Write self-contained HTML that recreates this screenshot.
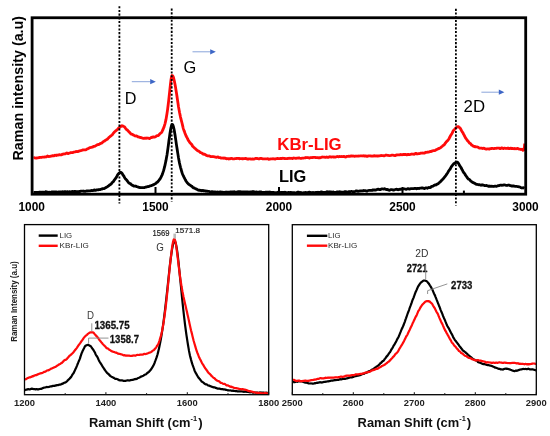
<!DOCTYPE html>
<html><head><meta charset="utf-8"><style>
html,body{margin:0;padding:0;background:#fff;}
svg{display:block;filter:blur(0.3px);font-family:"Liberation Sans", sans-serif;}
</style></head><body>
<svg width="550" height="436" viewBox="0 0 550 436" font-family='"Liberation Sans", sans-serif'>
<path d="M33.5,158.1 L34.0,158.0 L34.5,157.7 L35.0,157.9 L35.5,158.0 L36.0,158.2 L36.5,158.1 L37.0,157.9 L37.5,157.9 L38.0,157.8 L38.5,157.7 L39.0,157.7 L39.5,157.4 L40.0,157.5 L40.5,157.4 L41.0,157.5 L41.5,157.3 L42.0,157.3 L42.5,157.1 L43.0,157.2 L43.5,157.1 L44.0,157.2 L44.5,157.1 L45.0,156.9 L45.5,156.9 L46.0,157.0 L46.5,156.8 L47.0,156.5 L47.5,156.0 L48.0,156.2 L48.5,156.4 L49.0,156.6 L49.5,156.5 L50.0,156.4 L50.5,156.3 L51.0,156.1 L51.5,156.1 L52.0,155.9 L52.5,155.7 L53.0,155.6 L53.5,155.9 L54.0,155.8 L54.5,155.5 L55.0,155.2 L55.5,155.3 L56.0,155.3 L56.5,155.5 L57.0,155.0 L57.5,155.1 L58.0,155.0 L58.5,155.0 L59.0,154.8 L59.5,154.7 L60.0,154.8 L60.5,154.8 L61.0,154.9 L61.5,154.8 L62.0,154.6 L62.5,154.1 L63.0,154.1 L63.5,154.0 L64.0,154.0 L64.5,153.8 L65.0,153.9 L65.5,153.7 L66.0,153.4 L66.5,153.0 L67.0,153.1 L67.5,153.2 L68.0,153.6 L68.5,153.4 L69.0,153.2 L69.5,153.0 L70.0,152.9 L70.5,152.7 L71.0,152.5 L71.5,152.6 L72.0,152.7 L72.5,152.7 L73.0,152.4 L73.5,152.2 L74.0,152.1 L74.5,152.0 L75.0,151.9 L75.5,151.7 L76.0,151.5 L76.5,151.5 L77.0,151.6 L77.5,151.5 L78.0,151.5 L78.5,151.2 L79.0,151.2 L79.5,150.9 L80.0,150.8 L80.5,150.7 L81.0,150.6 L81.5,150.5 L82.0,150.3 L82.5,150.1 L83.0,149.9 L83.5,149.8 L84.0,149.8 L84.5,149.9 L85.0,149.8 L85.5,149.9 L86.0,149.7 L86.5,149.4 L87.0,149.1 L87.5,148.8 L88.0,148.8 L88.5,148.3 L89.0,148.2 L89.5,147.7 L90.0,147.7 L90.5,147.5 L91.0,147.4 L91.5,147.3 L92.0,147.2 L92.5,147.2 L93.0,146.7 L93.5,146.4 L94.0,146.3 L94.5,146.3 L95.0,146.2 L95.5,145.9 L96.0,145.6 L96.5,145.2 L97.0,144.9 L97.5,144.7 L98.0,144.5 L98.5,144.5 L99.0,144.5 L99.5,144.1 L100.0,143.8 L100.5,143.4 L101.0,143.4 L101.5,143.1 L102.0,142.9 L102.5,142.3 L103.0,141.9 L103.5,141.5 L104.0,141.3 L104.5,141.1 L105.0,140.5 L105.5,140.3 L106.0,139.8 L106.5,139.8 L107.0,139.3 L107.5,139.1 L108.0,138.4 L108.5,138.0 L109.0,137.4 L109.5,137.0 L110.0,136.6 L110.5,136.2 L111.0,135.8 L111.5,135.4 L112.0,135.0 L112.5,134.5 L113.0,133.7 L113.5,133.0 L114.0,132.5 L114.5,131.9 L115.0,131.5 L115.5,131.0 L116.0,130.7 L116.5,130.2 L117.0,129.8 L117.5,129.4 L118.0,128.7 L118.5,128.2 L119.0,127.8 L119.5,127.4 L120.0,127.1 L120.5,126.8 L121.0,126.3 L121.5,126.0 L122.0,125.6 L122.5,125.9 L123.0,126.1 L123.5,126.4 L124.0,126.5 L124.5,126.9 L125.0,127.5 L125.5,128.3 L126.0,128.9 L126.5,129.4 L127.0,129.9 L127.5,130.1 L128.0,130.7 L128.5,131.2 L129.0,132.0 L129.5,132.3 L130.0,132.7 L130.5,133.4 L131.0,133.9 L131.5,134.1 L132.0,134.3 L132.5,134.4 L133.0,134.8 L133.5,134.8 L134.0,135.4 L134.5,135.5 L135.0,135.9 L135.5,136.0 L136.0,136.1 L136.5,135.9 L137.0,136.0 L137.5,136.5 L138.0,136.9 L138.5,137.0 L139.0,137.0 L139.5,137.2 L140.0,137.4 L140.5,137.6 L141.0,137.5 L141.5,137.7 L142.0,138.0 L142.5,138.1 L143.0,138.3 L143.5,138.4 L144.0,138.5 L144.5,138.1 L145.0,138.1 L145.5,138.2 L146.0,138.4 L146.5,138.0 L147.0,138.1 L147.5,138.0 L148.0,138.1 L148.5,138.3 L149.0,138.5 L149.5,138.6 L150.0,138.2 L150.5,137.9 L151.0,137.5 L151.5,137.5 L152.0,137.2 L152.5,137.3 L153.0,136.9 L153.5,137.0 L154.0,137.0 L154.5,137.1 L155.0,137.0 L155.5,136.7 L156.0,136.4 L156.5,135.9 L157.0,135.7 L157.5,135.7 L158.0,135.6 L158.5,135.4 L159.0,134.8 L159.5,134.3 L160.0,133.7 L160.5,133.2 L161.0,132.9 L161.5,132.4 L162.0,131.7 L162.5,130.5 L163.0,129.5 L163.5,128.2 L164.0,127.1 L164.5,125.4 L165.0,123.8 L165.5,121.6 L166.0,119.4 L166.5,116.6 L167.0,113.5 L167.5,110.1 L168.0,106.3 L168.5,102.2 L169.0,97.7 L169.5,93.1 L170.0,88.4 L170.5,83.8 L171.0,79.7 L171.5,76.7 L172.0,75.5 L172.5,75.6 L173.0,76.3 L173.5,77.6 L174.0,79.5 L174.5,81.7 L175.0,84.2 L175.5,87.0 L176.0,90.2 L176.5,93.3 L177.0,96.5 L177.5,100.0 L178.0,103.2 L178.5,106.7 L179.0,109.5 L179.5,112.3 L180.0,114.6 L180.5,117.1 L181.0,119.2 L181.5,121.1 L182.0,123.0 L182.5,125.1 L183.0,127.3 L183.5,129.1 L184.0,130.6 L184.5,131.7 L185.0,133.2 L185.5,134.5 L186.0,135.8 L186.5,136.7 L187.0,137.5 L187.5,138.7 L188.0,139.7 L188.5,140.6 L189.0,141.3 L189.5,142.1 L190.0,142.8 L190.5,143.3 L191.0,143.8 L191.5,144.2 L192.0,145.0 L192.5,146.0 L193.0,146.6 L193.5,147.1 L194.0,147.4 L194.5,147.9 L195.0,148.4 L195.5,148.7 L196.0,149.4 L196.5,149.7 L197.0,150.2 L197.5,150.5 L198.0,150.9 L198.5,151.0 L199.0,151.2 L199.5,151.7 L200.0,152.2 L200.5,152.6 L201.0,152.6 L201.5,152.9 L202.0,153.2 L202.5,153.6 L203.0,154.1 L203.5,154.2 L204.0,154.3 L204.5,154.1 L205.0,154.4 L205.5,154.7 L206.0,155.2 L206.5,155.3 L207.0,155.7 L207.5,155.8 L208.0,155.9 L208.5,155.9 L209.0,156.0 L209.5,156.0 L210.0,156.2 L210.5,156.4 L211.0,156.7 L211.5,156.6 L212.0,156.6 L212.5,156.5 L213.0,156.6 L213.5,156.6 L214.0,156.8 L214.5,156.8 L215.0,157.0 L215.5,157.2 L216.0,157.2 L216.5,157.4 L217.0,157.1 L217.5,157.0 L218.0,157.0 L218.5,157.3 L219.0,157.7 L219.5,157.6 L220.0,157.6 L220.5,157.7 L221.0,158.1 L221.5,158.1 L222.0,158.2 L222.5,158.0 L223.0,158.1 L223.5,158.0 L224.0,158.3 L224.5,158.2 L225.0,158.2 L225.5,158.2 L226.0,158.6 L226.5,158.8 L227.0,158.8 L227.5,158.6 L228.0,158.7 L228.5,158.7 L229.0,159.0 L229.5,158.9 L230.0,158.8 L230.5,158.5 L231.0,158.4 L231.5,158.3 L232.0,158.6 L232.5,158.8 L233.0,158.8 L233.5,158.8 L234.0,158.8 L234.5,158.8 L235.0,158.6 L235.5,158.6 L236.0,158.6 L236.5,158.4 L237.0,158.4 L237.5,158.5 L238.0,158.4 L238.5,158.5 L239.0,158.5 L239.5,158.8 L240.0,158.7 L240.5,158.6 L241.0,158.6 L241.5,158.6 L242.0,158.8 L242.5,158.7 L243.0,158.8 L243.5,158.7 L244.0,158.7 L244.5,158.7 L245.0,158.5 L245.5,158.5 L246.0,158.5 L246.5,158.8 L247.0,158.8 L247.5,159.1 L248.0,159.0 L248.5,159.1 L249.0,158.8 L249.5,158.8 L250.0,158.9 L250.5,158.9 L251.0,159.1 L251.5,159.1 L252.0,159.0 L252.5,159.0 L253.0,158.8 L253.5,159.2 L254.0,159.1 L254.5,159.0 L255.0,158.5 L255.5,158.4 L256.0,158.4 L256.5,158.5 L257.0,158.5 L257.5,158.5 L258.0,158.6 L258.5,158.9 L259.0,158.8 L259.5,158.8 L260.0,158.5 L260.5,158.5 L261.0,158.4 L261.5,158.4 L262.0,158.7 L262.5,158.8 L263.0,158.9 L263.5,158.9 L264.0,158.9 L264.5,158.9 L265.0,158.9 L265.5,158.8 L266.0,158.9 L266.5,158.9 L267.0,158.9 L267.5,158.7 L268.0,158.8 L268.5,158.9 L269.0,159.4 L269.5,159.1 L270.0,159.2 L270.5,158.8 L271.0,158.9 L271.5,158.9 L272.0,158.8 L272.5,158.8 L273.0,158.7 L273.5,158.8 L274.0,158.9 L274.5,159.0 L275.0,159.0 L275.5,159.0 L276.0,158.8 L276.5,158.6 L277.0,158.5 L277.5,158.4 L278.0,158.6 L278.5,158.7 L279.0,158.6 L279.5,158.6 L280.0,158.5 L280.5,158.6 L281.0,158.4 L281.5,158.6 L282.0,158.4 L282.5,158.3 L283.0,158.2 L283.5,158.4 L284.0,158.5 L284.5,158.4 L285.0,158.6 L285.5,158.6 L286.0,158.7 L286.5,158.7 L287.0,158.6 L287.5,158.6 L288.0,158.4 L288.5,158.4 L289.0,158.2 L289.5,158.3 L290.0,158.4 L290.5,158.4 L291.0,158.2 L291.5,158.4 L292.0,158.5 L292.5,158.6 L293.0,158.3 L293.5,158.0 L294.0,158.1 L294.5,158.2 L295.0,158.2 L295.5,158.3 L296.0,158.3 L296.5,158.3 L297.0,158.1 L297.5,158.0 L298.0,158.1 L298.5,158.1 L299.0,157.9 L299.5,158.1 L300.0,158.1 L300.5,158.4 L301.0,158.4 L301.5,158.3 L302.0,158.2 L302.5,158.1 L303.0,158.2 L303.5,158.1 L304.0,158.0 L304.5,157.9 L305.0,157.8 L305.5,157.8 L306.0,157.5 L306.5,157.6 L307.0,157.5 L307.5,157.7 L308.0,157.6 L308.5,157.8 L309.0,158.0 L309.5,158.1 L310.0,157.8 L310.5,157.6 L311.0,157.5 L311.5,157.7 L312.0,157.6 L312.5,157.6 L313.0,157.4 L313.5,157.4 L314.0,157.3 L314.5,157.3 L315.0,157.3 L315.5,157.6 L316.0,157.7 L316.5,157.6 L317.0,157.5 L317.5,157.6 L318.0,157.8 L318.5,157.8 L319.0,157.7 L319.5,157.7 L320.0,157.8 L320.5,157.7 L321.0,157.5 L321.5,157.2 L322.0,157.2 L322.5,157.0 L323.0,157.2 L323.5,157.1 L324.0,157.2 L324.5,157.2 L325.0,157.3 L325.5,157.3 L326.0,157.3 L326.5,157.0 L327.0,157.1 L327.5,157.3 L328.0,157.4 L328.5,157.3 L329.0,157.0 L329.5,156.8 L330.0,156.7 L330.5,157.0 L331.0,157.1 L331.5,157.0 L332.0,157.0 L332.5,156.9 L333.0,157.0 L333.5,156.9 L334.0,157.1 L334.5,157.0 L335.0,157.2 L335.5,157.1 L336.0,157.0 L336.5,156.6 L337.0,156.7 L337.5,156.5 L338.0,156.7 L338.5,156.8 L339.0,156.7 L339.5,156.5 L340.0,156.5 L340.5,156.7 L341.0,156.6 L341.5,156.5 L342.0,156.5 L342.5,156.7 L343.0,156.7 L343.5,156.4 L344.0,156.6 L344.5,156.5 L345.0,156.9 L345.5,157.0 L346.0,157.0 L346.5,156.6 L347.0,156.3 L347.5,156.3 L348.0,156.4 L348.5,156.1 L349.0,156.3 L349.5,156.3 L350.0,156.3 L350.5,156.0 L351.0,155.9 L351.5,156.1 L352.0,156.0 L352.5,156.0 L353.0,156.1 L353.5,156.0 L354.0,156.2 L354.5,156.3 L355.0,156.3 L355.5,156.1 L356.0,156.0 L356.5,156.1 L357.0,156.2 L357.5,156.1 L358.0,156.0 L358.5,156.0 L359.0,156.1 L359.5,156.0 L360.0,155.9 L360.5,155.8 L361.0,155.8 L361.5,155.8 L362.0,155.9 L362.5,156.0 L363.0,155.9 L363.5,155.7 L364.0,155.9 L364.5,156.1 L365.0,156.1 L365.5,155.8 L366.0,155.9 L366.5,156.2 L367.0,156.4 L367.5,156.3 L368.0,156.0 L368.5,156.0 L369.0,155.9 L369.5,155.9 L370.0,155.8 L370.5,155.8 L371.0,156.1 L371.5,156.1 L372.0,156.0 L372.5,156.1 L373.0,156.1 L373.5,155.9 L374.0,155.7 L374.5,155.7 L375.0,156.0 L375.5,156.0 L376.0,155.9 L376.5,156.0 L377.0,155.9 L377.5,156.1 L378.0,155.9 L378.5,156.0 L379.0,155.9 L379.5,155.9 L380.0,155.8 L380.5,155.6 L381.0,155.5 L381.5,155.5 L382.0,155.6 L382.5,155.6 L383.0,155.6 L383.5,155.7 L384.0,155.9 L384.5,155.7 L385.0,155.5 L385.5,155.2 L386.0,155.1 L386.5,155.2 L387.0,155.2 L387.5,155.4 L388.0,155.3 L388.5,155.5 L389.0,155.6 L389.5,155.7 L390.0,155.6 L390.5,155.5 L391.0,155.4 L391.5,155.2 L392.0,155.2 L392.5,155.1 L393.0,155.2 L393.5,155.3 L394.0,155.4 L394.5,155.5 L395.0,155.7 L395.5,155.4 L396.0,155.2 L396.5,154.8 L397.0,155.0 L397.5,154.8 L398.0,154.8 L398.5,154.8 L399.0,154.9 L399.5,154.8 L400.0,154.8 L400.5,154.5 L401.0,154.7 L401.5,154.7 L402.0,154.8 L402.5,154.7 L403.0,154.6 L403.5,154.4 L404.0,154.5 L404.5,154.3 L405.0,154.5 L405.5,154.4 L406.0,154.7 L406.5,154.8 L407.0,154.8 L407.5,154.5 L408.0,154.3 L408.5,154.4 L409.0,154.6 L409.5,154.7 L410.0,154.5 L410.5,154.4 L411.0,154.2 L411.5,154.2 L412.0,154.0 L412.5,154.1 L413.0,154.1 L413.5,154.2 L414.0,154.3 L414.5,154.2 L415.0,153.8 L415.5,153.4 L416.0,153.3 L416.5,153.5 L417.0,154.0 L417.5,153.9 L418.0,153.8 L418.5,153.6 L419.0,153.7 L419.5,153.6 L420.0,153.5 L420.5,153.2 L421.0,153.1 L421.5,153.1 L422.0,153.0 L422.5,153.2 L423.0,153.0 L423.5,153.2 L424.0,153.2 L424.5,153.1 L425.0,152.7 L425.5,152.4 L426.0,152.2 L426.5,152.4 L427.0,152.3 L427.5,152.2 L428.0,152.0 L428.5,152.2 L429.0,152.0 L429.5,151.8 L430.0,151.6 L430.5,151.4 L431.0,151.5 L431.5,151.2 L432.0,151.1 L432.5,150.9 L433.0,150.7 L433.5,150.7 L434.0,150.6 L434.5,150.7 L435.0,150.5 L435.5,150.2 L436.0,149.8 L436.5,149.6 L437.0,149.5 L437.5,149.1 L438.0,149.0 L438.5,148.5 L439.0,148.5 L439.5,148.2 L440.0,148.0 L440.5,147.7 L441.0,147.3 L441.5,146.9 L442.0,146.5 L442.5,146.1 L443.0,145.6 L443.5,145.3 L444.0,144.9 L444.5,144.4 L445.0,143.6 L445.5,143.0 L446.0,142.2 L446.5,141.8 L447.0,141.0 L447.5,140.7 L448.0,140.2 L448.5,139.5 L449.0,138.8 L449.5,137.7 L450.0,136.8 L450.5,135.7 L451.0,134.9 L451.5,134.2 L452.0,133.5 L452.5,132.4 L453.0,131.3 L453.5,130.4 L454.0,130.0 L454.5,129.5 L455.0,128.9 L455.5,128.3 L456.0,127.8 L456.5,127.4 L457.0,126.9 L457.5,126.6 L458.0,126.6 L458.5,126.7 L459.0,127.3 L459.5,127.5 L460.0,128.0 L460.5,128.6 L461.0,129.6 L461.5,130.7 L462.0,131.3 L462.5,132.3 L463.0,133.0 L463.5,134.0 L464.0,134.9 L464.5,136.0 L465.0,136.9 L465.5,137.9 L466.0,138.5 L466.5,139.2 L467.0,139.9 L467.5,140.7 L468.0,141.1 L468.5,141.7 L469.0,142.4 L469.5,143.0 L470.0,143.3 L470.5,143.7 L471.0,144.1 L471.5,145.0 L472.0,145.1 L472.5,145.7 L473.0,145.9 L473.5,146.3 L474.0,146.5 L474.5,146.5 L475.0,146.8 L475.5,146.7 L476.0,146.9 L476.5,146.8 L477.0,146.9 L477.5,147.0 L478.0,147.2 L478.5,147.6 L479.0,147.9 L479.5,148.1 L480.0,148.2 L480.5,148.1 L481.0,148.1 L481.5,148.2 L482.0,148.2 L482.5,148.5 L483.0,148.4 L483.5,148.2 L484.0,148.2 L484.5,148.4 L485.0,148.8 L485.5,149.0 L486.0,149.1 L486.5,149.0 L487.0,149.0 L487.5,148.8 L488.0,148.8 L488.5,148.8 L489.0,149.1 L489.5,149.1 L490.0,148.8 L490.5,148.6 L491.0,148.5 L491.5,148.6 L492.0,148.4 L492.5,148.4 L493.0,148.5 L493.5,148.6 L494.0,148.6 L494.5,148.4 L495.0,148.3 L495.5,148.4 L496.0,148.4 L496.5,148.3 L497.0,148.1 L497.5,148.1 L498.0,148.2 L498.5,148.2 L499.0,148.2 L499.5,148.2 L500.0,148.6 L500.5,148.7 L501.0,148.3 L501.5,147.9 L502.0,147.8 L502.5,148.2 L503.0,148.4 L503.5,148.6 L504.0,148.3 L504.5,148.1 L505.0,148.1 L505.5,148.4 L506.0,148.5 L506.5,148.4 L507.0,148.5 L507.5,148.1 L508.0,148.3 L508.5,148.2 L509.0,148.7 L509.5,148.6 L510.0,148.4 L510.5,148.2 L511.0,148.2 L511.5,148.6 L512.0,148.5 L512.5,148.5 L513.0,148.5 L513.5,148.6 L514.0,148.8 L514.5,148.5 L515.0,148.7 L515.5,148.6 L516.0,148.9 L516.5,148.6 L517.0,148.5 L517.5,148.4 L518.0,148.6 L518.5,149.0 L519.0,149.1 L519.5,149.2 L520.0,149.1 L520.5,149.5 L521.0,149.4 L521.5,149.5 L522.0,149.2 L523,150.3 L524.2,149.6 L524.7,143.5" fill="none" stroke="#ff0a0a" stroke-width="2.8" stroke-linejoin="round"/>
<path d="M33.5,192.4 L34.0,192.5 L34.5,192.3 L35.0,192.3 L35.5,192.3 L36.0,192.4 L36.5,192.3 L37.0,192.3 L37.5,192.4 L38.0,192.3 L38.5,192.4 L39.0,192.2 L39.5,192.2 L40.0,192.1 L40.5,192.2 L41.0,192.3 L41.5,192.3 L42.0,192.1 L42.5,192.1 L43.0,192.1 L43.5,192.2 L44.0,192.3 L44.5,192.4 L45.0,192.1 L45.5,191.8 L46.0,191.6 L46.5,191.9 L47.0,192.1 L47.5,192.2 L48.0,192.5 L48.5,192.3 L49.0,192.2 L49.5,192.2 L50.0,192.4 L50.5,192.5 L51.0,192.2 L51.5,191.9 L52.0,191.9 L52.5,191.9 L53.0,192.0 L53.5,191.9 L54.0,191.8 L54.5,191.9 L55.0,191.9 L55.5,191.9 L56.0,192.1 L56.5,192.0 L57.0,192.0 L57.5,192.1 L58.0,192.2 L58.5,192.0 L59.0,192.0 L59.5,191.9 L60.0,192.1 L60.5,191.9 L61.0,192.0 L61.5,191.9 L62.0,191.9 L62.5,191.7 L63.0,191.7 L63.5,191.9 L64.0,191.8 L64.5,191.7 L65.0,191.7 L65.5,191.7 L66.0,191.8 L66.5,191.9 L67.0,191.7 L67.5,191.7 L68.0,191.8 L68.5,191.9 L69.0,191.8 L69.5,191.7 L70.0,191.8 L70.5,192.0 L71.0,191.8 L71.5,191.6 L72.0,191.5 L72.5,191.4 L73.0,191.7 L73.5,191.7 L74.0,191.6 L74.5,191.3 L75.0,191.4 L75.5,191.6 L76.0,191.7 L76.5,191.6 L77.0,191.5 L77.5,191.6 L78.0,191.7 L78.5,191.7 L79.0,191.6 L79.5,191.4 L80.0,191.5 L80.5,191.2 L81.0,191.2 L81.5,191.1 L82.0,191.1 L82.5,191.2 L83.0,191.1 L83.5,191.3 L84.0,191.2 L84.5,191.3 L85.0,191.3 L85.5,191.4 L86.0,191.2 L86.5,190.8 L87.0,190.9 L87.5,191.0 L88.0,191.0 L88.5,190.8 L89.0,190.8 L89.5,190.9 L90.0,190.9 L90.5,190.8 L91.0,190.6 L91.5,190.6 L92.0,190.4 L92.5,190.5 L93.0,190.6 L93.5,190.5 L94.0,190.1 L94.5,189.9 L95.0,190.3 L95.5,190.4 L96.0,190.2 L96.5,189.9 L97.0,189.8 L97.5,189.9 L98.0,189.7 L98.5,189.8 L99.0,189.7 L99.5,189.7 L100.0,189.6 L100.5,189.4 L101.0,189.2 L101.5,189.0 L102.0,189.0 L102.5,188.7 L103.0,188.6 L103.5,188.6 L104.0,188.5 L104.5,188.5 L105.0,188.1 L105.5,187.8 L106.0,187.5 L106.5,187.2 L107.0,187.0 L107.5,186.6 L108.0,186.3 L108.5,185.9 L109.0,185.6 L109.5,185.0 L110.0,184.7 L110.5,184.6 L111.0,184.1 L111.5,183.7 L112.0,182.7 L112.5,182.3 L113.0,181.8 L113.5,181.4 L114.0,180.6 L114.5,179.8 L115.0,179.2 L115.5,178.5 L116.0,177.9 L116.5,177.1 L117.0,176.1 L117.5,175.1 L118.0,174.3 L118.5,173.7 L119.0,173.2 L119.5,172.8 L120.0,172.3 L120.5,172.4 L121.0,172.4 L121.5,172.8 L122.0,173.3 L122.5,174.1 L123.0,175.1 L123.5,175.8 L124.0,176.3 L124.5,177.4 L125.0,178.3 L125.5,179.0 L126.0,179.3 L126.5,179.9 L127.0,180.5 L127.5,181.3 L128.0,181.8 L128.5,182.6 L129.0,183.2 L129.5,183.3 L130.0,183.6 L130.5,183.6 L131.0,184.4 L131.5,184.7 L132.0,185.2 L132.5,185.2 L133.0,185.6 L133.5,186.0 L134.0,186.2 L134.5,186.2 L135.0,186.0 L135.5,186.2 L136.0,186.2 L136.5,186.6 L137.0,186.6 L137.5,186.9 L138.0,186.9 L138.5,187.2 L139.0,187.4 L139.5,187.4 L140.0,187.6 L140.5,187.6 L141.0,187.6 L141.5,187.6 L142.0,187.7 L142.5,187.7 L143.0,187.7 L143.5,187.7 L144.0,187.6 L144.5,187.6 L145.0,187.3 L145.5,187.2 L146.0,187.0 L146.5,187.0 L147.0,186.8 L147.5,186.7 L148.0,186.5 L148.5,186.6 L149.0,186.5 L149.5,186.0 L150.0,185.9 L150.5,185.8 L151.0,185.8 L151.5,185.6 L152.0,185.3 L152.5,185.2 L153.0,184.9 L153.5,184.7 L154.0,184.6 L154.5,184.1 L155.0,184.0 L155.5,183.6 L156.0,183.3 L156.5,182.7 L157.0,182.3 L157.5,182.1 L158.0,181.5 L158.5,181.0 L159.0,180.3 L159.5,179.6 L160.0,179.0 L160.5,178.1 L161.0,177.2 L161.5,176.1 L162.0,175.1 L162.5,173.9 L163.0,172.4 L163.5,170.9 L164.0,169.1 L164.5,167.2 L165.0,165.1 L165.5,162.8 L166.0,160.4 L166.5,157.6 L167.0,154.9 L167.5,151.5 L168.0,147.9 L168.5,144.2 L169.0,140.3 L169.5,137.0 L170.0,133.3 L170.5,130.3 L171.0,127.5 L171.5,125.7 L172.0,124.6 L172.5,124.5 L173.0,125.3 L173.5,127.0 L174.0,129.0 L174.5,131.7 L175.0,134.7 L175.5,138.1 L176.0,141.6 L176.5,145.1 L177.0,148.3 L177.5,151.5 L178.0,154.6 L178.5,157.7 L179.0,160.4 L179.5,163.1 L180.0,165.2 L180.5,167.3 L181.0,169.0 L181.5,170.8 L182.0,172.5 L182.5,174.0 L183.0,175.1 L183.5,176.1 L184.0,177.2 L184.5,178.1 L185.0,179.1 L185.5,180.0 L186.0,181.0 L186.5,181.7 L187.0,182.4 L187.5,183.0 L188.0,183.5 L188.5,184.1 L189.0,184.4 L189.5,184.8 L190.0,185.0 L190.5,185.5 L191.0,185.8 L191.5,186.2 L192.0,186.4 L192.5,187.1 L193.0,187.4 L193.5,187.9 L194.0,187.9 L194.5,188.1 L195.0,188.5 L195.5,188.7 L196.0,188.9 L196.5,189.1 L197.0,189.3 L197.5,189.7 L198.0,190.0 L198.5,190.2 L199.0,190.3 L199.5,190.1 L200.0,190.3 L200.5,190.3 L201.0,190.6 L201.5,190.8 L202.0,190.6 L202.5,190.6 L203.0,190.4 L203.5,190.8 L204.0,190.7 L204.5,190.8 L205.0,190.8 L205.5,191.1 L206.0,191.3 L206.5,191.2 L207.0,191.1 L207.5,191.3 L208.0,191.4 L208.5,191.4 L209.0,191.4 L209.5,191.5 L210.0,191.9 L210.5,191.8 L211.0,191.9 L211.5,191.7 L212.0,191.8 L212.5,191.7 L213.0,191.9 L213.5,192.0 L214.0,192.0 L214.5,191.9 L215.0,191.9 L215.5,192.1 L216.0,192.2 L216.5,192.1 L217.0,192.0 L217.5,192.0 L218.0,192.4 L218.5,192.2 L219.0,192.1 L219.5,192.0 L220.0,192.0 L220.5,192.0 L221.0,191.9 L221.5,192.2 L222.0,192.2 L222.5,192.2 L223.0,192.1 L223.5,192.4 L224.0,192.3 L224.5,192.4 L225.0,192.1 L225.5,192.1 L226.0,192.0 L226.5,192.2 L227.0,192.3 L227.5,192.2 L228.0,192.2 L228.5,192.2 L229.0,192.2 L229.5,192.1 L230.0,192.0 L230.5,191.8 L231.0,191.9 L231.5,191.9 L232.0,192.0 L232.5,192.0 L233.0,191.8 L233.5,191.9 L234.0,191.7 L234.5,192.1 L235.0,192.0 L235.5,192.1 L236.0,192.0 L236.5,192.2 L237.0,192.2 L237.5,192.0 L238.0,191.7 L238.5,191.6 L239.0,191.6 L239.5,191.8 L240.0,191.6 L240.5,191.8 L241.0,192.0 L241.5,192.0 L242.0,192.0 L242.5,191.9 L243.0,192.0 L243.5,191.9 L244.0,191.8 L244.5,191.9 L245.0,191.9 L245.5,191.9 L246.0,191.9 L246.5,191.8 L247.0,191.9 L247.5,191.8 L248.0,192.1 L248.5,192.0 L249.0,192.1 L249.5,192.0 L250.0,192.0 L250.5,191.8 L251.0,191.8 L251.5,191.8 L252.0,191.8 L252.5,191.6 L253.0,191.5 L253.5,191.6 L254.0,191.8 L254.5,192.1 L255.0,192.3 L255.5,192.2 L256.0,192.0 L256.5,191.9 L257.0,192.0 L257.5,192.3 L258.0,192.4 L258.5,192.3 L259.0,192.0 L259.5,191.9 L260.0,191.8 L260.5,191.8 L261.0,191.9 L261.5,192.2 L262.0,192.3 L262.5,192.4 L263.0,192.4 L263.5,192.5 L264.0,192.5 L264.5,192.4 L265.0,192.4 L265.5,192.2 L266.0,192.1 L266.5,192.2 L267.0,192.1 L267.5,192.2 L268.0,192.3 L268.5,192.2 L269.0,192.2 L269.5,192.0 L270.0,192.1 L270.5,192.2 L271.0,192.4 L271.5,192.4 L272.0,192.4 L272.5,192.4 L273.0,192.3 L273.5,192.3 L274.0,192.5 L274.5,192.6 L275.0,192.9 L275.5,192.7 L276.0,192.8 L276.5,192.7 L277.0,192.7 L277.5,192.5 L278.0,192.2 L278.5,192.3 L279.0,192.5 L279.5,192.7 L280.0,192.7 L280.5,192.5 L281.0,192.6 L281.5,192.3 L282.0,192.4 L282.5,192.3 L283.0,192.4 L283.5,192.6 L284.0,192.5 L284.5,192.5 L285.0,192.1 L285.5,192.4 L286.0,192.5 L286.5,192.7 L287.0,192.6 L287.5,192.8 L288.0,192.5 L288.5,192.4 L289.0,192.6 L289.5,192.6 L290.0,192.6 L290.5,192.3 L291.0,192.6 L291.5,192.7 L292.0,192.8 L292.5,192.6 L293.0,192.7 L293.5,192.7 L294.0,192.6 L294.5,192.7 L295.0,192.9 L295.5,193.0 L296.0,192.8 L296.5,192.7 L297.0,192.6 L297.5,192.4 L298.0,192.0 L298.5,192.1 L299.0,192.3 L299.5,192.5 L300.0,192.6 L300.5,192.5 L301.0,192.5 L301.5,192.7 L302.0,193.0 L302.5,193.0 L303.0,192.8 L303.5,192.8 L304.0,192.6 L304.5,192.6 L305.0,192.5 L305.5,192.8 L306.0,192.7 L306.5,192.6 L307.0,192.5 L307.5,192.6 L308.0,192.5 L308.5,192.5 L309.0,192.2 L309.5,192.2 L310.0,192.3 L310.5,192.6 L311.0,192.8 L311.5,192.8 L312.0,192.6 L312.5,192.5 L313.0,192.4 L313.5,192.5 L314.0,192.6 L314.5,192.8 L315.0,192.6 L315.5,192.5 L316.0,192.3 L316.5,192.6 L317.0,192.6 L317.5,192.4 L318.0,192.2 L318.5,192.4 L319.0,192.7 L319.5,192.8 L320.0,192.6 L320.5,192.2 L321.0,191.9 L321.5,191.8 L322.0,192.0 L322.5,192.2 L323.0,192.4 L323.5,192.4 L324.0,192.5 L324.5,192.4 L325.0,192.3 L325.5,192.3 L326.0,192.2 L326.5,192.0 L327.0,191.7 L327.5,191.8 L328.0,191.8 L328.5,191.9 L329.0,191.8 L329.5,192.0 L330.0,191.9 L330.5,191.8 L331.0,191.9 L331.5,192.3 L332.0,192.3 L332.5,192.2 L333.0,192.0 L333.5,192.0 L334.0,192.4 L334.5,192.5 L335.0,192.5 L335.5,192.4 L336.0,192.4 L336.5,192.3 L337.0,191.9 L337.5,191.8 L338.0,192.1 L338.5,192.1 L339.0,192.1 L339.5,191.7 L340.0,191.9 L340.5,191.9 L341.0,192.1 L341.5,192.1 L342.0,192.1 L342.5,192.1 L343.0,192.2 L343.5,192.2 L344.0,192.1 L344.5,191.8 L345.0,191.6 L345.5,191.7 L346.0,191.7 L346.5,192.1 L347.0,192.2 L347.5,192.2 L348.0,191.9 L348.5,191.8 L349.0,191.6 L349.5,191.6 L350.0,191.5 L350.5,191.6 L351.0,191.5 L351.5,191.4 L352.0,191.5 L352.5,191.6 L353.0,191.6 L353.5,191.6 L354.0,191.6 L354.5,191.7 L355.0,191.5 L355.5,191.3 L356.0,190.9 L356.5,190.8 L357.0,190.9 L357.5,191.2 L358.0,191.4 L358.5,191.3 L359.0,191.1 L359.5,191.0 L360.0,191.0 L360.5,191.0 L361.0,190.9 L361.5,190.8 L362.0,191.0 L362.5,190.9 L363.0,190.9 L363.5,190.5 L364.0,190.7 L364.5,190.7 L365.0,190.6 L365.5,190.6 L366.0,190.9 L366.5,191.1 L367.0,191.2 L367.5,190.9 L368.0,190.6 L368.5,190.5 L369.0,190.4 L369.5,190.4 L370.0,190.4 L370.5,190.4 L371.0,190.5 L371.5,190.4 L372.0,190.2 L372.5,190.3 L373.0,190.0 L373.5,190.1 L374.0,189.8 L374.5,190.1 L375.0,190.0 L375.5,190.2 L376.0,189.9 L376.5,189.7 L377.0,189.6 L377.5,189.3 L378.0,189.2 L378.5,189.2 L379.0,189.5 L379.5,189.7 L380.0,189.5 L380.5,189.5 L381.0,189.2 L381.5,189.1 L382.0,188.8 L382.5,188.9 L383.0,189.0 L383.5,189.2 L384.0,188.9 L384.5,188.7 L385.0,188.8 L385.5,189.3 L386.0,189.5 L386.5,189.5 L387.0,189.3 L387.5,189.6 L388.0,189.7 L388.5,190.1 L389.0,190.1 L389.5,190.3 L390.0,190.0 L390.5,189.8 L391.0,189.6 L391.5,189.7 L392.0,189.7 L392.5,189.8 L393.0,189.9 L393.5,190.1 L394.0,189.9 L394.5,189.9 L395.0,189.6 L395.5,189.5 L396.0,189.3 L396.5,189.2 L397.0,189.4 L397.5,189.6 L398.0,189.8 L398.5,189.7 L399.0,189.6 L399.5,189.3 L400.0,189.2 L400.5,189.2 L401.0,189.3 L401.5,189.2 L402.0,189.2 L402.5,189.0 L403.0,189.0 L403.5,188.9 L404.0,189.0 L404.5,188.9 L405.0,189.0 L405.5,189.1 L406.0,189.4 L406.5,189.2 L407.0,189.0 L407.5,188.8 L408.0,188.6 L408.5,188.8 L409.0,188.9 L409.5,189.1 L410.0,188.9 L410.5,188.7 L411.0,188.7 L411.5,188.6 L412.0,188.6 L412.5,188.6 L413.0,188.6 L413.5,188.6 L414.0,188.5 L414.5,188.5 L415.0,188.4 L415.5,188.5 L416.0,188.5 L416.5,188.8 L417.0,188.6 L417.5,188.4 L418.0,188.3 L418.5,188.5 L419.0,188.6 L419.5,188.3 L420.0,188.2 L420.5,188.1 L421.0,188.2 L421.5,187.9 L422.0,188.1 L422.5,187.9 L423.0,188.1 L423.5,188.3 L424.0,188.5 L424.5,188.5 L425.0,188.2 L425.5,188.1 L426.0,187.8 L426.5,187.9 L427.0,187.9 L427.5,188.2 L428.0,187.8 L428.5,187.7 L429.0,187.4 L429.5,187.5 L430.0,187.6 L430.5,187.4 L431.0,186.9 L431.5,186.3 L432.0,186.3 L432.5,186.3 L433.0,186.2 L433.5,185.8 L434.0,185.4 L434.5,185.0 L435.0,184.9 L435.5,185.0 L436.0,185.0 L436.5,184.5 L437.0,184.2 L437.5,184.1 L438.0,183.8 L438.5,183.4 L439.0,182.7 L439.5,182.5 L440.0,182.1 L440.5,181.7 L441.0,181.1 L441.5,180.6 L442.0,180.0 L442.5,179.5 L443.0,179.0 L443.5,178.5 L444.0,177.8 L444.5,177.2 L445.0,176.5 L445.5,175.9 L446.0,175.2 L446.5,174.4 L447.0,173.7 L447.5,173.0 L448.0,172.2 L448.5,171.2 L449.0,170.5 L449.5,169.8 L450.0,169.3 L450.5,168.3 L451.0,167.4 L451.5,166.5 L452.0,165.9 L452.5,165.2 L453.0,164.5 L453.5,164.1 L454.0,163.5 L454.5,163.3 L455.0,162.8 L455.5,162.7 L456.0,162.6 L456.5,162.3 L457.0,162.3 L457.5,162.2 L458.0,162.8 L458.5,163.4 L459.0,164.4 L459.5,165.4 L460.0,166.1 L460.5,166.8 L461.0,167.5 L461.5,168.5 L462.0,169.5 L462.5,170.3 L463.0,171.5 L463.5,172.1 L464.0,173.0 L464.5,173.4 L465.0,174.3 L465.5,175.2 L466.0,175.8 L466.5,176.6 L467.0,177.2 L467.5,178.1 L468.0,178.7 L468.5,179.1 L469.0,179.3 L469.5,179.5 L470.0,180.2 L470.5,180.7 L471.0,181.3 L471.5,181.5 L472.0,181.9 L472.5,182.3 L473.0,182.6 L473.5,182.8 L474.0,182.9 L474.5,183.2 L475.0,183.5 L475.5,183.8 L476.0,184.2 L476.5,184.4 L477.0,184.3 L477.5,184.5 L478.0,184.6 L478.5,184.8 L479.0,184.6 L479.5,184.6 L480.0,185.0 L480.5,185.1 L481.0,185.3 L481.5,184.8 L482.0,185.0 L482.5,184.9 L483.0,185.1 L483.5,185.2 L484.0,185.3 L484.5,185.6 L485.0,185.7 L485.5,185.7 L486.0,185.6 L486.5,185.4 L487.0,185.7 L487.5,185.9 L488.0,186.0 L488.5,186.3 L489.0,186.2 L489.5,186.3 L490.0,186.1 L490.5,186.3 L491.0,186.3 L491.5,186.3 L492.0,186.1 L492.5,186.4 L493.0,186.4 L493.5,186.5 L494.0,186.4 L494.5,186.2 L495.0,186.2 L495.5,186.2 L496.0,186.3 L496.5,186.4 L497.0,186.1 L497.5,186.0 L498.0,185.7 L498.5,185.6 L499.0,185.6 L499.5,185.4 L500.0,185.3 L500.5,185.1 L501.0,185.1 L501.5,185.2 L502.0,185.4 L502.5,185.1 L503.0,185.1 L503.5,185.0 L504.0,185.0 L504.5,184.9 L505.0,185.0 L505.5,185.2 L506.0,185.3 L506.5,185.4 L507.0,185.5 L507.5,185.4 L508.0,185.1 L508.5,185.0 L509.0,185.1 L509.5,185.3 L510.0,185.6 L510.5,185.7 L511.0,185.8 L511.5,186.0 L512.0,185.9 L512.5,186.1 L513.0,185.9 L513.5,186.0 L514.0,186.0 L514.5,186.1 L515.0,186.4 L515.5,186.3 L516.0,186.4 L516.5,186.3 L517.0,186.5 L517.5,186.6 L518.0,186.6 L518.5,186.8 L519.0,186.8 L519.5,186.9 L520.0,187.0 L520.5,187.4 L521.0,187.7 L521.5,187.8 L522.0,188.0 L522.5,187.9 L523.0,187.9 L523.5,187.6 L524.0,188.0 L524.5,188.2" fill="none" stroke="#000" stroke-width="2.8" stroke-linejoin="round"/>
<rect x="32.1" y="17.75" width="493.6" height="176.45" fill="none" stroke="#000" stroke-width="2.8"/>
<line x1="155.5" y1="187" x2="155.5" y2="194" stroke="#000" stroke-width="2"/>
<line x1="279" y1="187" x2="279" y2="194" stroke="#000" stroke-width="2"/>
<line x1="402.5" y1="187" x2="402.5" y2="194" stroke="#000" stroke-width="2"/>
<line x1="463.9" y1="190.6" x2="463.9" y2="194" stroke="#000" stroke-width="2"/>
<line x1="119.4" y1="6.2" x2="119.4" y2="203.5" stroke="#000" stroke-width="1.8" stroke-dasharray="2.1 1.6"/>
<line x1="171.7" y1="8.6" x2="171.7" y2="201.5" stroke="#000" stroke-width="1.8" stroke-dasharray="2.1 1.6"/>
<line x1="455.9" y1="8.8" x2="455.9" y2="205.5" stroke="#000" stroke-width="1.8" stroke-dasharray="2.1 1.6"/>
<text x="31.7" y="211.3" font-size="11.9" font-weight="bold" text-anchor="middle">1000</text>
<text x="155.5" y="211.3" font-size="11.9" font-weight="bold" text-anchor="middle">1500</text>
<text x="279" y="211.3" font-size="11.9" font-weight="bold" text-anchor="middle">2000</text>
<text x="402.5" y="211.3" font-size="11.9" font-weight="bold" text-anchor="middle">2500</text>
<text x="525.5" y="211.3" font-size="11.9" font-weight="bold" text-anchor="middle">3000</text>
<text transform="translate(22.6,88.2) rotate(-90)" font-size="14.3" font-weight="bold" text-anchor="middle">Raman intensity (a.u)</text>
<text x="124.8" y="103.5" font-size="16.2">D</text>
<text x="183.6" y="72.6" font-size="16.4">G</text>
<text x="463.6" y="112" font-size="16.8">2D</text>
<text x="277.3" y="150.4" font-size="16.8" font-weight="bold" fill="#ff0a0a">KBr-LIG</text>
<text x="278.9" y="181.7" font-size="16.4" font-weight="bold">LIG</text>
<line x1="131.8" y1="81.7" x2="150.8" y2="81.7" stroke="#7d9ad6" stroke-width="0.9"/><path d="M150.20000000000002,79.10000000000001 L155.8,81.7 L150.20000000000002,84.3 Z" fill="#3d66c6"/>
<line x1="192.5" y1="51.8" x2="210.8" y2="51.8" stroke="#7d9ad6" stroke-width="0.9"/><path d="M210.20000000000002,49.199999999999996 L215.8,51.8 L210.20000000000002,54.4 Z" fill="#3d66c6"/>
<line x1="481.4" y1="92.2" x2="499.4" y2="92.2" stroke="#7d9ad6" stroke-width="0.9"/><path d="M498.79999999999995,89.60000000000001 L504.4,92.2 L498.79999999999995,94.8 Z" fill="#3d66c6"/>
<path d="M25.0,390.1 L25.5,390.0 L26.0,389.6 L26.5,389.7 L27.0,389.6 L27.5,389.3 L28.0,389.2 L28.5,389.1 L29.0,389.5 L29.5,389.5 L30.0,389.4 L30.5,389.0 L31.0,388.9 L31.5,388.7 L32.0,388.7 L32.5,388.8 L33.0,388.9 L33.5,389.1 L34.0,389.0 L34.5,389.1 L35.0,389.2 L35.5,389.3 L36.0,389.3 L36.5,389.1 L37.0,389.2 L37.5,389.4 L38.0,389.4 L38.5,389.3 L39.0,389.2 L39.5,389.0 L40.0,389.0 L40.5,388.8 L41.0,388.9 L41.5,388.8 L42.0,388.6 L42.5,388.1 L43.0,388.1 L43.5,387.8 L44.0,387.7 L44.5,387.5 L45.0,387.5 L45.5,387.5 L46.0,387.2 L46.5,387.0 L47.0,386.9 L47.5,387.1 L48.0,387.1 L48.5,387.0 L49.0,386.9 L49.5,386.7 L50.0,386.6 L50.5,386.4 L51.0,386.4 L51.5,386.4 L52.0,386.2 L52.5,386.1 L53.0,385.8 L53.5,385.9 L54.0,385.8 L54.5,385.8 L55.0,385.7 L55.5,385.4 L56.0,385.6 L56.5,385.3 L57.0,385.1 L57.5,385.0 L58.0,385.2 L58.5,385.0 L59.0,384.7 L59.5,384.5 L60.0,384.5 L60.5,384.6 L61.0,384.3 L61.5,384.2 L62.0,383.7 L62.5,383.8 L63.0,383.5 L63.5,383.4 L64.0,382.8 L64.5,382.7 L65.0,382.6 L65.5,382.5 L66.0,382.1 L66.5,381.7 L67.0,381.2 L67.5,380.6 L68.0,380.1 L68.5,379.8 L69.0,379.3 L69.5,378.8 L70.0,378.1 L70.5,377.6 L71.0,377.1 L71.5,376.3 L72.0,375.4 L72.5,374.5 L73.0,373.9 L73.5,373.3 L74.0,372.4 L74.5,371.2 L75.0,370.1 L75.5,369.0 L76.0,368.0 L76.5,366.8 L77.0,365.6 L77.5,364.3 L78.0,363.2 L78.5,361.9 L79.0,360.8 L79.5,359.6 L80.0,358.4 L80.5,356.6 L81.0,355.1 L81.5,353.6 L82.0,352.6 L82.5,351.2 L83.0,350.2 L83.5,349.2 L84.0,348.3 L84.5,347.3 L85.0,346.3 L85.5,345.8 L86.0,345.5 L86.5,345.4 L87.0,345.1 L87.5,345.0 L88.0,344.8 L88.5,345.1 L89.0,345.3 L89.5,345.7 L90.0,345.8 L90.5,346.1 L91.0,346.4 L91.5,347.3 L92.0,348.0 L92.5,348.8 L93.0,349.4 L93.5,350.2 L94.0,351.0 L94.5,351.8 L95.0,352.7 L95.5,354.0 L96.0,355.0 L96.5,355.8 L97.0,356.4 L97.5,357.3 L98.0,358.3 L98.5,359.5 L99.0,360.6 L99.5,361.5 L100.0,362.3 L100.5,363.2 L101.0,363.9 L101.5,364.7 L102.0,365.5 L102.5,366.4 L103.0,367.2 L103.5,367.9 L104.0,368.6 L104.5,369.5 L105.0,370.2 L105.5,370.9 L106.0,371.5 L106.5,372.2 L107.0,372.9 L107.5,373.2 L108.0,373.7 L108.5,374.0 L109.0,374.6 L109.5,375.1 L110.0,375.6 L110.5,376.1 L111.0,376.4 L111.5,376.7 L112.0,376.9 L112.5,377.2 L113.0,377.4 L113.5,377.6 L114.0,378.1 L114.5,378.3 L115.0,378.8 L115.5,378.8 L116.0,378.8 L116.5,378.9 L117.0,379.1 L117.5,379.3 L118.0,379.6 L118.5,379.7 L119.0,380.1 L119.5,380.2 L120.0,380.4 L120.5,380.3 L121.0,380.4 L121.5,380.3 L122.0,380.3 L122.5,380.5 L123.0,380.7 L123.5,380.8 L124.0,380.9 L124.5,380.9 L125.0,380.9 L125.5,380.9 L126.0,380.7 L126.5,380.5 L127.0,380.5 L127.5,380.3 L128.0,380.5 L128.5,380.4 L129.0,380.6 L129.5,380.5 L130.0,380.3 L130.5,380.2 L131.0,380.1 L131.5,380.0 L132.0,379.9 L132.5,379.9 L133.0,379.8 L133.5,379.6 L134.0,379.5 L134.5,379.2 L135.0,379.2 L135.5,378.9 L136.0,379.1 L136.5,379.0 L137.0,378.7 L137.5,378.4 L138.0,378.1 L138.5,377.9 L139.0,377.7 L139.5,377.5 L140.0,377.2 L140.5,376.8 L141.0,376.6 L141.5,376.6 L142.0,376.3 L142.5,376.1 L143.0,375.9 L143.5,375.6 L144.0,375.2 L144.5,374.9 L145.0,374.6 L145.5,374.5 L146.0,374.2 L146.5,373.8 L147.0,373.2 L147.5,372.7 L148.0,372.6 L148.5,372.2 L149.0,371.8 L149.5,371.1 L150.0,370.6 L150.5,370.2 L151.0,369.4 L151.5,368.8 L152.0,367.9 L152.5,367.2 L153.0,366.1 L153.5,365.3 L154.0,364.2 L154.5,363.2 L155.0,361.7 L155.5,360.4 L156.0,359.0 L156.5,357.7 L157.0,356.2 L157.5,354.5 L158.0,352.6 L158.5,350.6 L159.0,348.4 L159.5,346.1 L160.0,343.6 L160.5,341.0 L161.0,338.3 L161.5,335.4 L162.0,332.2 L162.5,328.9 L163.0,325.6 L163.5,322.1 L164.0,318.2 L164.5,314.1 L165.0,310.1 L165.5,305.7 L166.0,301.4 L166.5,296.9 L167.0,292.4 L167.5,287.9 L168.0,283.1 L168.5,278.4 L169.0,273.6 L169.5,268.9 L170.0,264.4 L170.5,260.4 L171.0,256.5 L171.5,253.0 L172.0,249.6 L172.5,247.0 L173.0,244.5 L173.5,242.6 L174.0,241.4 L174.5,241.1 L175.0,241.5 L175.5,242.5 L176.0,244.4 L176.5,246.9 L177.0,250.0 L177.5,253.5 L178.0,257.7 L178.5,262.2 L179.0,267.0 L179.5,272.0 L180.0,277.1 L180.5,282.0 L181.0,286.8 L181.5,291.9 L182.0,297.1 L182.5,302.2 L183.0,307.0 L183.5,311.5 L184.0,316.0 L184.5,320.2 L185.0,324.4 L185.5,328.1 L186.0,331.8 L186.5,335.3 L187.0,338.7 L187.5,341.9 L188.0,345.0 L188.5,347.9 L189.0,350.9 L189.5,353.4 L190.0,355.7 L190.5,357.6 L191.0,359.6 L191.5,361.4 L192.0,363.2 L192.5,364.7 L193.0,366.0 L193.5,367.4 L194.0,368.7 L194.5,370.4 L195.0,371.4 L195.5,372.4 L196.0,373.4 L196.5,374.2 L197.0,375.2 L197.5,376.0 L198.0,376.9 L198.5,377.6 L199.0,378.1 L199.5,378.8 L200.0,379.3 L200.5,380.0 L201.0,380.5 L201.5,381.3 L202.0,381.7 L202.5,382.0 L203.0,382.2 L203.5,382.7 L204.0,383.2 L204.5,383.5 L205.0,384.0 L205.5,384.2 L206.0,384.4 L206.5,384.3 L207.0,384.6 L207.5,385.0 L208.0,385.4 L208.5,385.6 L209.0,385.5 L209.5,385.8 L210.0,386.1 L210.5,386.2 L211.0,386.4 L211.5,386.5 L212.0,386.9 L212.5,386.9 L213.0,387.2 L213.5,387.3 L214.0,387.5 L214.5,387.4 L215.0,387.5 L215.5,387.8 L216.0,387.9 L216.5,388.2 L217.0,388.3 L217.5,388.6 L218.0,388.6 L218.5,388.7 L219.0,388.5 L219.5,388.5 L220.0,388.7 L220.5,389.0 L221.0,389.1 L221.5,389.1 L222.0,389.1 L222.5,389.0 L223.0,389.3 L223.5,389.4 L224.0,389.6 L224.5,389.4 L225.0,389.4 L225.5,389.7 L226.0,389.9 L226.5,389.9 L227.0,390.0 L227.5,390.2 L228.0,390.4 L228.5,390.4 L229.0,390.4 L229.5,390.5 L230.0,390.5 L230.5,390.4 L231.0,390.6 L231.5,390.6 L232.0,390.9 L232.5,390.6 L233.0,390.8 L233.5,390.7 L234.0,390.9 L234.5,391.0 L235.0,391.0 L235.5,391.2 L236.0,391.1 L236.5,391.1 L237.0,391.2 L237.5,391.4 L238.0,391.5 L238.5,391.4 L239.0,391.4 L239.5,391.5 L240.0,391.4 L240.5,391.3 L241.0,391.3 L241.5,391.3 L242.0,391.4 L242.5,391.5 L243.0,391.7 L243.5,391.7 L244.0,391.8 L244.5,391.6 L245.0,391.8 L245.5,391.6 L246.0,391.7 L246.5,391.7 L247.0,391.9 L247.5,392.0 L248.0,391.9 L248.5,392.0 L249.0,392.1 L249.5,392.2 L250.0,392.3 L250.5,392.2 L251.0,392.2 L251.5,392.1 L252.0,392.3 L252.5,392.5 L253.0,392.7 L253.5,392.6 L254.0,392.5 L254.5,392.5 L255.0,392.5 L255.5,392.6 L256.0,392.6 L256.5,392.6 L257.0,392.5 L257.5,392.5 L258.0,392.7 L258.5,393.0 L259.0,393.1 L259.5,392.9 L260.0,392.4 L260.5,392.5 L261.0,392.5 L261.5,392.7 L262.0,392.7 L262.5,392.6 L263.0,392.7 L263.5,392.7 L264.0,392.7 L264.5,392.8 L265.0,392.9 L265.5,392.9 L266.0,392.7 L266.5,392.7 L267.0,392.9 L267.5,392.9 L268.0,392.8" fill="none" stroke="#000" stroke-width="2.2" stroke-linejoin="round"/>
<path d="M25.0,379.4 L25.5,379.3 L26.0,379.2 L26.5,378.8 L27.0,378.4 L27.5,378.1 L28.0,378.0 L28.5,377.7 L29.0,377.5 L29.5,377.3 L30.0,377.5 L30.5,377.3 L31.0,377.1 L31.5,376.6 L32.0,376.6 L32.5,376.2 L33.0,376.3 L33.5,375.9 L34.0,375.8 L34.5,375.5 L35.0,375.3 L35.5,375.2 L36.0,375.1 L36.5,375.1 L37.0,374.7 L37.5,374.6 L38.0,374.2 L38.5,374.2 L39.0,373.8 L39.5,373.7 L40.0,373.5 L40.5,373.3 L41.0,373.3 L41.5,373.0 L42.0,373.1 L42.5,372.9 L43.0,372.6 L43.5,372.2 L44.0,371.9 L44.5,371.8 L45.0,371.8 L45.5,371.5 L46.0,371.2 L46.5,370.8 L47.0,370.6 L47.5,370.4 L48.0,370.2 L48.5,370.3 L49.0,370.0 L49.5,369.7 L50.0,369.4 L50.5,369.1 L51.0,368.8 L51.5,368.5 L52.0,368.5 L52.5,368.1 L53.0,368.0 L53.5,367.6 L54.0,367.5 L54.5,367.2 L55.0,367.0 L55.5,366.9 L56.0,366.5 L56.5,366.2 L57.0,365.8 L57.5,365.4 L58.0,365.2 L58.5,364.8 L59.0,364.5 L59.5,364.2 L60.0,364.0 L60.5,363.7 L61.0,363.3 L61.5,362.9 L62.0,362.8 L62.5,362.1 L63.0,361.8 L63.5,361.1 L64.0,360.6 L64.5,360.2 L65.0,359.9 L65.5,359.8 L66.0,359.7 L66.5,359.2 L67.0,358.8 L67.5,358.0 L68.0,357.7 L68.5,357.0 L69.0,356.4 L69.5,355.9 L70.0,355.4 L70.5,355.1 L71.0,354.6 L71.5,354.3 L72.0,353.8 L72.5,353.3 L73.0,352.7 L73.5,352.2 L74.0,351.5 L74.5,350.8 L75.0,350.1 L75.5,349.6 L76.0,349.0 L76.5,348.4 L77.0,347.7 L77.5,346.9 L78.0,346.2 L78.5,345.3 L79.0,344.8 L79.5,344.0 L80.0,343.5 L80.5,342.7 L81.0,342.0 L81.5,341.2 L82.0,340.5 L82.5,339.9 L83.0,339.1 L83.5,338.3 L84.0,337.5 L84.5,337.1 L85.0,336.4 L85.5,336.0 L86.0,335.5 L86.5,335.2 L87.0,334.8 L87.5,334.2 L88.0,333.7 L88.5,333.5 L89.0,333.1 L89.5,332.8 L90.0,332.5 L90.5,332.4 L91.0,332.4 L91.5,332.4 L92.0,332.3 L92.5,332.4 L93.0,332.3 L93.5,332.7 L94.0,333.3 L94.5,333.9 L95.0,334.5 L95.5,335.0 L96.0,335.6 L96.5,336.1 L97.0,336.6 L97.5,337.2 L98.0,337.8 L98.5,338.5 L99.0,339.3 L99.5,340.0 L100.0,340.6 L100.5,341.3 L101.0,341.8 L101.5,342.5 L102.0,343.0 L102.5,343.7 L103.0,344.3 L103.5,344.8 L104.0,345.3 L104.5,345.7 L105.0,346.2 L105.5,346.8 L106.0,347.3 L106.5,348.0 L107.0,348.3 L107.5,348.4 L108.0,348.5 L108.5,349.0 L109.0,349.6 L109.5,349.9 L110.0,350.0 L110.5,350.4 L111.0,350.8 L111.5,351.2 L112.0,351.3 L112.5,351.6 L113.0,351.8 L113.5,351.8 L114.0,352.0 L114.5,352.1 L115.0,352.4 L115.5,352.6 L116.0,352.8 L116.5,352.7 L117.0,353.0 L117.5,353.2 L118.0,353.7 L118.5,353.7 L119.0,353.8 L119.5,353.8 L120.0,354.0 L120.5,354.1 L121.0,354.4 L121.5,354.4 L122.0,354.5 L122.5,354.7 L123.0,355.1 L123.5,355.3 L124.0,355.3 L124.5,355.2 L125.0,355.3 L125.5,355.6 L126.0,355.6 L126.5,355.7 L127.0,355.4 L127.5,355.6 L128.0,355.6 L128.5,355.7 L129.0,355.6 L129.5,355.6 L130.0,355.9 L130.5,356.0 L131.0,356.0 L131.5,355.8 L132.0,355.9 L132.5,355.7 L133.0,355.7 L133.5,355.5 L134.0,355.4 L134.5,355.5 L135.0,355.7 L135.5,355.7 L136.0,355.4 L136.5,355.1 L137.0,354.9 L137.5,354.9 L138.0,355.0 L138.5,355.0 L139.0,354.9 L139.5,354.9 L140.0,354.7 L140.5,354.6 L141.0,354.6 L141.5,354.7 L142.0,354.7 L142.5,354.6 L143.0,354.4 L143.5,354.3 L144.0,353.9 L144.5,354.0 L145.0,353.9 L145.5,354.1 L146.0,354.0 L146.5,353.8 L147.0,353.6 L147.5,353.5 L148.0,353.3 L148.5,353.1 L149.0,352.8 L149.5,352.6 L150.0,352.5 L150.5,352.4 L151.0,352.1 L151.5,351.8 L152.0,351.2 L152.5,350.9 L153.0,350.5 L153.5,350.3 L154.0,349.9 L154.5,349.4 L155.0,348.8 L155.5,348.2 L156.0,347.6 L156.5,346.8 L157.0,345.9 L157.5,345.4 L158.0,344.5 L158.5,343.6 L159.0,342.0 L159.5,340.5 L160.0,338.8 L160.5,337.2 L161.0,335.6 L161.5,333.4 L162.0,331.2 L162.5,328.7 L163.0,326.0 L163.5,323.1 L164.0,319.6 L164.5,316.2 L165.0,312.4 L165.5,308.7 L166.0,304.4 L166.5,299.9 L167.0,295.2 L167.5,290.3 L168.0,285.4 L168.5,280.1 L169.0,275.0 L169.5,270.0 L170.0,265.2 L170.5,260.7 L171.0,256.2 L171.5,252.1 L172.0,248.0 L172.5,244.7 L173.0,242.0 L173.5,240.0 L174.0,239.1 L174.5,238.9 L175.0,240.0 L175.5,241.7 L176.0,244.6 L176.5,248.1 L177.0,252.0 L177.5,256.0 L178.0,260.1 L178.5,264.3 L179.0,268.4 L179.5,272.4 L180.0,276.2 L180.5,279.8 L181.0,283.0 L181.5,286.3 L182.0,289.0 L182.5,291.7 L183.0,294.1 L183.5,296.7 L184.0,298.9 L184.5,301.2 L185.0,303.4 L185.5,305.6 L186.0,307.8 L186.5,309.9 L187.0,312.1 L187.5,314.4 L188.0,316.5 L188.5,318.9 L189.0,321.1 L189.5,323.4 L190.0,325.7 L190.5,327.9 L191.0,330.2 L191.5,332.1 L192.0,334.1 L192.5,336.2 L193.0,338.2 L193.5,340.3 L194.0,342.0 L194.5,343.7 L195.0,345.4 L195.5,347.2 L196.0,348.8 L196.5,350.3 L197.0,351.8 L197.5,353.2 L198.0,354.3 L198.5,355.7 L199.0,357.0 L199.5,358.1 L200.0,359.1 L200.5,359.9 L201.0,361.1 L201.5,362.1 L202.0,363.1 L202.5,363.9 L203.0,364.5 L203.5,365.4 L204.0,366.3 L204.5,367.2 L205.0,368.0 L205.5,368.7 L206.0,369.4 L206.5,369.9 L207.0,370.6 L207.5,371.5 L208.0,372.2 L208.5,372.9 L209.0,373.3 L209.5,373.6 L210.0,374.2 L210.5,374.6 L211.0,375.4 L211.5,375.9 L212.0,376.2 L212.5,376.8 L213.0,377.3 L213.5,377.7 L214.0,378.0 L214.5,378.3 L215.0,378.9 L215.5,379.4 L216.0,379.8 L216.5,380.2 L217.0,380.5 L217.5,380.8 L218.0,381.0 L218.5,381.2 L219.0,381.2 L219.5,381.7 L220.0,382.1 L220.5,382.8 L221.0,382.8 L221.5,383.0 L222.0,383.0 L222.5,383.4 L223.0,383.7 L223.5,383.9 L224.0,384.0 L224.5,383.9 L225.0,384.0 L225.5,384.5 L226.0,385.0 L226.5,385.4 L227.0,385.4 L227.5,385.4 L228.0,385.4 L228.5,385.7 L229.0,385.9 L229.5,386.2 L230.0,386.6 L230.5,386.7 L231.0,386.9 L231.5,386.7 L232.0,387.1 L232.5,387.1 L233.0,387.4 L233.5,387.5 L234.0,387.9 L234.5,388.0 L235.0,388.1 L235.5,388.0 L236.0,388.1 L236.5,388.2 L237.0,388.4 L237.5,388.4 L238.0,388.6 L238.5,388.7 L239.0,388.8 L239.5,389.0 L240.0,389.0 L240.5,389.1 L241.0,389.2 L241.5,389.3 L242.0,389.3 L242.5,389.1 L243.0,389.3 L243.5,389.3 L244.0,389.6 L244.5,389.6 L245.0,389.7 L245.5,389.8 L246.0,389.9 L246.5,390.1 L247.0,390.3 L247.5,390.5 L248.0,390.7 L248.5,391.0 L249.0,391.0 L249.5,391.2 L250.0,391.2 L250.5,391.5 L251.0,391.4 L251.5,391.5 L252.0,391.6 L252.5,391.9 L253.0,391.9 L253.5,392.2 L254.0,392.1 L254.5,392.4 L255.0,392.5 L255.5,392.5 L256.0,392.6 L256.5,392.8 L257.0,392.9 L257.5,392.9 L258.0,392.8 L258.5,392.9 L259.0,392.9 L259.5,392.9 L260.0,393.0 L260.5,393.1 L261.0,393.2 L261.5,393.3 L262.0,393.4 L262.5,393.5 L263.0,393.3 L263.5,393.4 L264.0,393.5 L264.5,393.3 L265.0,393.0 L265.5,392.9 L266.0,393.2 L266.5,393.4 L267.0,393.4 L267.5,393.4 L268.0,393.3" fill="none" stroke="#ff0a0a" stroke-width="2.2" stroke-linejoin="round"/>
<rect x="24.5" y="224.6" width="244.2" height="170.1" fill="none" stroke="#000" stroke-width="1.3"/>
<line x1="24.50" y1="394.7" x2="24.50" y2="392.2" stroke="#111" stroke-width="1"/>
<line x1="65.20" y1="394.7" x2="65.20" y2="393.1" stroke="#111" stroke-width="1"/>
<line x1="105.90" y1="394.7" x2="105.90" y2="392.2" stroke="#111" stroke-width="1"/>
<line x1="146.60" y1="394.7" x2="146.60" y2="393.1" stroke="#111" stroke-width="1"/>
<line x1="187.30" y1="394.7" x2="187.30" y2="392.2" stroke="#111" stroke-width="1"/>
<line x1="228.00" y1="394.7" x2="228.00" y2="393.1" stroke="#111" stroke-width="1"/>
<line x1="268.70" y1="394.7" x2="268.70" y2="392.2" stroke="#111" stroke-width="1"/>
<text x="24.50" y="406.3" font-size="9.4" font-weight="bold" text-anchor="middle" fill="#222">1200</text>
<text x="105.90" y="406.3" font-size="9.4" font-weight="bold" text-anchor="middle" fill="#222">1400</text>
<text x="187.30" y="406.3" font-size="9.4" font-weight="bold" text-anchor="middle" fill="#222">1600</text>
<text x="268.70" y="406.3" font-size="9.4" font-weight="bold" text-anchor="middle" fill="#222">1800</text>
<text x="89" y="427.1" font-size="13.3" font-weight="bold" fill="#111" textLength="101.5" lengthAdjust="spacingAndGlyphs">Raman Shift (cm</text><text x="190.6" y="421.1" font-size="7.4" font-weight="bold" fill="#111">-1</text><text x="198.2" y="427.1" font-size="13.3" font-weight="bold" fill="#111">)</text>
<text transform="translate(16.9,301.6) rotate(-90)" font-size="9.8" font-weight="bold" text-anchor="middle" textLength="80.5" lengthAdjust="spacingAndGlyphs" fill="#222">Raman Intensity (a.u)</text>
<line x1="38.7" y1="235.6" x2="57.7" y2="235.6" stroke="#000" stroke-width="2.4"/>
<line x1="38.7" y1="245.8" x2="57.7" y2="245.8" stroke="#ff0a0a" stroke-width="2.4"/>
<text x="59.6" y="238.1" font-size="7.8" fill="#2a2a2a">LIG</text>
<text x="59.6" y="248.4" font-size="8.1" fill="#2a2a2a">KBr-LIG</text>
<text x="156.2" y="250.5" font-size="10" fill="#333" textLength="7.6" lengthAdjust="spacingAndGlyphs">G</text>
<text x="152.4" y="235.6" font-size="8.8" fill="#222" stroke="#222" stroke-width="0.2" textLength="17" lengthAdjust="spacingAndGlyphs">1569</text>
<text x="175.2" y="233.1" font-size="8.1" fill="#222" stroke="#222" stroke-width="0.2">1571.8</text>
<rect x="173.4" y="233.6" width="2.6" height="5" fill="#bbb"/>
<text x="86.9" y="318.5" font-size="11.3" fill="#3a3a3a" textLength="7" lengthAdjust="spacingAndGlyphs">D</text>
<text x="94.4" y="328.7" font-size="11.8" font-weight="bold" fill="#111" stroke="#111" stroke-width="0.3" textLength="35.3" lengthAdjust="spacingAndGlyphs">1365.75</text>
<text x="109.8" y="342.7" font-size="11.2" font-weight="bold" fill="#111" stroke="#111" stroke-width="0.3" textLength="29.2" lengthAdjust="spacingAndGlyphs">1358.7</text>
<path d="M91.8,323.3 V331.3" stroke="#888" stroke-width="0.9" fill="none"/>
<path d="M88.6,343.6 V338.1 H108.5" stroke="#888" stroke-width="0.9" fill="none"/>
<path d="M293.0,382.2 L293.5,382.1 L294.0,382.1 L294.5,382.2 L295.0,382.1 L295.5,381.9 L296.0,381.6 L296.5,381.6 L297.0,381.8 L297.5,381.8 L298.0,381.6 L298.5,381.3 L299.0,381.4 L299.5,381.5 L300.0,381.5 L300.5,381.3 L301.0,381.3 L301.5,381.4 L302.0,381.5 L302.5,381.6 L303.0,381.9 L303.5,382.0 L304.0,382.2 L304.5,382.3 L305.0,382.6 L305.5,382.6 L306.0,382.7 L306.5,382.6 L307.0,382.9 L307.5,383.0 L308.0,383.2 L308.5,383.3 L309.0,383.5 L309.5,383.5 L310.0,383.5 L310.5,383.5 L311.0,383.4 L311.5,383.5 L312.0,383.5 L312.5,383.7 L313.0,383.7 L313.5,383.6 L314.0,383.4 L314.5,383.2 L315.0,383.3 L315.5,383.2 L316.0,383.0 L316.5,382.9 L317.0,382.7 L317.5,382.9 L318.0,382.7 L318.5,382.7 L319.0,382.4 L319.5,382.4 L320.0,382.2 L320.5,382.3 L321.0,382.3 L321.5,382.6 L322.0,382.4 L322.5,382.4 L323.0,382.2 L323.5,382.0 L324.0,381.9 L324.5,381.9 L325.0,381.8 L325.5,381.8 L326.0,381.6 L326.5,381.6 L327.0,381.5 L327.5,381.4 L328.0,381.3 L328.5,381.3 L329.0,381.2 L329.5,381.2 L330.0,381.0 L330.5,380.9 L331.0,380.6 L331.5,380.7 L332.0,380.7 L332.5,380.7 L333.0,380.4 L333.5,380.4 L334.0,380.3 L334.5,380.2 L335.0,380.2 L335.5,380.1 L336.0,380.1 L336.5,380.0 L337.0,380.0 L337.5,379.9 L338.0,380.0 L338.5,379.9 L339.0,379.7 L339.5,379.3 L340.0,379.2 L340.5,379.2 L341.0,379.4 L341.5,379.3 L342.0,379.2 L342.5,379.0 L343.0,378.9 L343.5,378.9 L344.0,378.8 L344.5,378.8 L345.0,378.8 L345.5,378.8 L346.0,378.6 L346.5,378.5 L347.0,378.3 L347.5,378.3 L348.0,378.1 L348.5,378.0 L349.0,377.9 L349.5,377.6 L350.0,377.4 L350.5,377.4 L351.0,377.4 L351.5,377.4 L352.0,377.3 L352.5,377.2 L353.0,377.0 L353.5,376.9 L354.0,376.5 L354.5,376.4 L355.0,376.2 L355.5,376.0 L356.0,376.1 L356.5,376.0 L357.0,375.8 L357.5,375.7 L358.0,375.6 L358.5,375.6 L359.0,375.4 L359.5,375.2 L360.0,375.2 L360.5,375.0 L361.0,374.8 L361.5,374.5 L362.0,374.2 L362.5,374.0 L363.0,373.8 L363.5,373.8 L364.0,373.8 L364.5,373.5 L365.0,373.1 L365.5,372.9 L366.0,372.8 L366.5,372.7 L367.0,372.4 L367.5,372.1 L368.0,371.8 L368.5,371.4 L369.0,371.1 L369.5,371.2 L370.0,370.9 L370.5,370.7 L371.0,370.2 L371.5,370.0 L372.0,369.6 L372.5,369.4 L373.0,369.2 L373.5,369.1 L374.0,368.6 L374.5,368.1 L375.0,367.7 L375.5,367.4 L376.0,367.1 L376.5,366.5 L377.0,366.4 L377.5,366.1 L378.0,365.8 L378.5,365.3 L379.0,364.9 L379.5,364.3 L380.0,363.7 L380.5,363.0 L381.0,362.9 L381.5,362.4 L382.0,361.9 L382.5,361.3 L383.0,361.0 L383.5,360.7 L384.0,360.1 L384.5,359.2 L385.0,358.7 L385.5,358.1 L386.0,357.5 L386.5,356.6 L387.0,356.1 L387.5,355.6 L388.0,354.9 L388.5,354.1 L389.0,353.4 L389.5,352.6 L390.0,352.2 L390.5,351.3 L391.0,350.4 L391.5,349.3 L392.0,348.7 L392.5,347.9 L393.0,347.0 L393.5,345.9 L394.0,345.1 L394.5,344.5 L395.0,343.5 L395.5,342.7 L396.0,341.7 L396.5,340.7 L397.0,339.6 L397.5,338.7 L398.0,337.9 L398.5,337.0 L399.0,335.8 L399.5,334.6 L400.0,333.4 L400.5,332.2 L401.0,330.9 L401.5,329.7 L402.0,328.5 L402.5,327.6 L403.0,326.4 L403.5,325.3 L404.0,323.9 L404.5,322.6 L405.0,321.3 L405.5,319.6 L406.0,318.3 L406.5,316.9 L407.0,315.5 L407.5,314.0 L408.0,312.6 L408.5,311.5 L409.0,310.1 L409.5,308.5 L410.0,307.1 L410.5,305.9 L411.0,304.5 L411.5,303.2 L412.0,301.6 L412.5,300.2 L413.0,299.0 L413.5,297.8 L414.0,296.5 L414.5,295.1 L415.0,293.7 L415.5,292.3 L416.0,291.2 L416.5,290.2 L417.0,289.0 L417.5,287.8 L418.0,286.8 L418.5,285.9 L419.0,285.1 L419.5,284.3 L420.0,283.6 L420.5,283.0 L421.0,282.5 L421.5,282.0 L422.0,281.7 L422.5,281.3 L423.0,280.9 L423.5,280.6 L424.0,280.5 L424.5,280.5 L425.0,280.6 L425.5,280.8 L426.0,281.0 L426.5,281.1 L427.0,281.5 L427.5,282.0 L428.0,282.8 L428.5,283.1 L429.0,284.0 L429.5,284.7 L430.0,285.6 L430.5,286.2 L431.0,287.1 L431.5,288.0 L432.0,289.0 L432.5,289.9 L433.0,291.1 L433.5,292.3 L434.0,293.5 L434.5,294.6 L435.0,295.5 L435.5,296.8 L436.0,298.0 L436.5,299.4 L437.0,300.6 L437.5,301.8 L438.0,303.2 L438.5,304.4 L439.0,305.7 L439.5,306.8 L440.0,308.1 L440.5,309.6 L441.0,310.9 L441.5,312.0 L442.0,313.2 L442.5,314.4 L443.0,315.9 L443.5,317.0 L444.0,318.2 L444.5,319.2 L445.0,320.4 L445.5,321.7 L446.0,322.9 L446.5,324.1 L447.0,325.3 L447.5,326.3 L448.0,327.2 L448.5,327.9 L449.0,328.8 L449.5,329.8 L450.0,330.9 L450.5,331.8 L451.0,332.9 L451.5,333.6 L452.0,334.5 L452.5,335.5 L453.0,336.7 L453.5,337.8 L454.0,338.4 L454.5,339.3 L455.0,340.1 L455.5,340.8 L456.0,341.3 L456.5,342.0 L457.0,342.6 L457.5,343.3 L458.0,344.0 L458.5,344.7 L459.0,345.4 L459.5,346.2 L460.0,346.7 L460.5,347.3 L461.0,348.0 L461.5,348.7 L462.0,349.4 L462.5,349.9 L463.0,350.5 L463.5,351.0 L464.0,351.3 L464.5,351.6 L465.0,352.0 L465.5,352.4 L466.0,352.9 L466.5,353.3 L467.0,353.7 L467.5,354.2 L468.0,354.8 L468.5,355.3 L469.0,355.6 L469.5,356.0 L470.0,356.4 L470.5,356.8 L471.0,357.3 L471.5,357.6 L472.0,358.1 L472.5,358.5 L473.0,358.9 L473.5,359.2 L474.0,359.4 L474.5,359.7 L475.0,360.1 L475.5,360.4 L476.0,360.4 L476.5,360.5 L477.0,360.8 L477.5,361.3 L478.0,362.0 L478.5,362.3 L479.0,362.5 L479.5,362.6 L480.0,362.6 L480.5,362.9 L481.0,363.1 L481.5,363.5 L482.0,363.6 L482.5,363.9 L483.0,364.1 L483.5,364.1 L484.0,364.2 L484.5,364.1 L485.0,364.2 L485.5,364.5 L486.0,364.6 L486.5,364.9 L487.0,364.9 L487.5,365.1 L488.0,365.2 L488.5,365.1 L489.0,365.2 L489.5,365.4 L490.0,365.6 L490.5,365.7 L491.0,365.7 L491.5,365.9 L492.0,366.0 L492.5,366.4 L493.0,366.5 L493.5,366.7 L494.0,366.9 L494.5,367.2 L495.0,367.6 L495.5,367.7 L496.0,367.7 L496.5,367.9 L497.0,368.1 L497.5,368.4 L498.0,368.6 L498.5,368.8 L499.0,368.8 L499.5,368.8 L500.0,369.0 L500.5,369.3 L501.0,369.4 L501.5,369.4 L502.0,369.4 L502.5,369.5 L503.0,369.6 L503.5,369.3 L504.0,369.1 L504.5,368.8 L505.0,368.9 L505.5,368.6 L506.0,368.7 L506.5,368.7 L507.0,369.0 L507.5,368.8 L508.0,368.9 L508.5,369.1 L509.0,369.2 L509.5,369.4 L510.0,369.5 L510.5,369.8 L511.0,370.0 L511.5,370.1 L512.0,370.4 L512.5,370.6 L513.0,370.7 L513.5,370.9 L514.0,371.0 L514.5,371.2 L515.0,370.9 L515.5,370.7 L516.0,370.6 L516.5,370.8 L517.0,370.7 L517.5,370.6 L518.0,370.3 L518.5,370.2 L519.0,369.9 L519.5,369.8 L520.0,369.6 L520.5,369.5 L521.0,369.4 L521.5,369.4 L522.0,369.3 L522.5,369.1 L523.0,368.9 L523.5,368.9 L524.0,369.1 L524.5,369.0 L525.0,369.0 L525.5,368.9 L526.0,369.1 L526.5,369.1 L527.0,369.2 L527.5,369.0 L528.0,368.8 L528.5,368.7 L529.0,368.9 L529.5,369.2 L530.0,369.4 L530.5,369.4 L531.0,369.3 L531.5,369.3 L532.0,369.3 L532.5,369.5 L533.0,369.4 L533.5,369.6 L534.0,369.7 L534.5,369.9 L535.0,370.1 L535.5,370.3 L536.0,370.4" fill="none" stroke="#000" stroke-width="2.2" stroke-linejoin="round"/>
<path d="M293.0,380.0 L293.5,379.9 L294.0,379.9 L294.5,380.0 L295.0,380.5 L295.5,380.7 L296.0,380.8 L296.5,380.8 L297.0,380.9 L297.5,380.8 L298.0,380.7 L298.5,380.6 L299.0,380.6 L299.5,380.7 L300.0,381.0 L300.5,381.1 L301.0,381.3 L301.5,381.2 L302.0,381.2 L302.5,381.0 L303.0,380.9 L303.5,380.8 L304.0,380.9 L304.5,380.8 L305.0,380.6 L305.5,380.6 L306.0,380.6 L306.5,380.9 L307.0,380.9 L307.5,380.9 L308.0,380.8 L308.5,380.8 L309.0,380.7 L309.5,380.7 L310.0,380.5 L310.5,380.4 L311.0,380.1 L311.5,380.1 L312.0,380.1 L312.5,380.0 L313.0,380.0 L313.5,379.8 L314.0,379.8 L314.5,379.5 L315.0,379.7 L315.5,379.5 L316.0,379.5 L316.5,379.2 L317.0,379.0 L317.5,378.9 L318.0,378.9 L318.5,378.9 L319.0,378.7 L319.5,378.4 L320.0,378.2 L320.5,378.1 L321.0,378.2 L321.5,378.3 L322.0,378.3 L322.5,378.3 L323.0,378.3 L323.5,378.3 L324.0,378.3 L324.5,378.1 L325.0,378.1 L325.5,377.7 L326.0,377.9 L326.5,377.8 L327.0,377.9 L327.5,377.7 L328.0,377.7 L328.5,377.7 L329.0,377.8 L329.5,377.7 L330.0,377.7 L330.5,377.6 L331.0,377.6 L331.5,377.5 L332.0,377.7 L332.5,377.6 L333.0,377.6 L333.5,377.5 L334.0,377.6 L334.5,377.5 L335.0,377.3 L335.5,377.3 L336.0,377.5 L336.5,377.3 L337.0,377.3 L337.5,377.3 L338.0,377.4 L338.5,377.2 L339.0,377.3 L339.5,377.0 L340.0,376.9 L340.5,376.6 L341.0,376.7 L341.5,376.7 L342.0,376.8 L342.5,376.8 L343.0,376.8 L343.5,376.6 L344.0,376.7 L344.5,376.4 L345.0,376.1 L345.5,375.8 L346.0,375.9 L346.5,375.7 L347.0,375.6 L347.5,375.6 L348.0,375.5 L348.5,375.6 L349.0,375.7 L349.5,376.0 L350.0,375.8 L350.5,375.6 L351.0,375.3 L351.5,375.3 L352.0,375.1 L352.5,375.2 L353.0,375.0 L353.5,375.1 L354.0,375.1 L354.5,375.1 L355.0,374.8 L355.5,374.4 L356.0,374.3 L356.5,374.3 L357.0,374.4 L357.5,374.3 L358.0,374.3 L358.5,374.3 L359.0,374.2 L359.5,374.2 L360.0,373.9 L360.5,373.9 L361.0,373.8 L361.5,373.9 L362.0,373.7 L362.5,373.7 L363.0,373.5 L363.5,373.4 L364.0,373.2 L364.5,373.0 L365.0,372.8 L365.5,372.6 L366.0,372.6 L366.5,372.4 L367.0,372.5 L367.5,372.3 L368.0,372.2 L368.5,372.0 L369.0,371.9 L369.5,371.9 L370.0,371.5 L370.5,371.4 L371.0,371.0 L371.5,370.6 L372.0,370.4 L372.5,370.4 L373.0,370.2 L373.5,370.0 L374.0,369.7 L374.5,369.8 L375.0,369.6 L375.5,369.3 L376.0,369.0 L376.5,368.8 L377.0,368.7 L377.5,368.8 L378.0,368.6 L378.5,368.3 L379.0,367.8 L379.5,367.5 L380.0,367.3 L380.5,367.0 L381.0,366.7 L381.5,366.3 L382.0,366.0 L382.5,365.8 L383.0,365.6 L383.5,365.4 L384.0,365.1 L384.5,364.8 L385.0,364.5 L385.5,363.9 L386.0,363.7 L386.5,363.3 L387.0,363.0 L387.5,362.5 L388.0,362.0 L388.5,361.8 L389.0,361.4 L389.5,360.9 L390.0,360.4 L390.5,359.9 L391.0,359.3 L391.5,358.7 L392.0,358.2 L392.5,357.6 L393.0,357.1 L393.5,356.5 L394.0,356.2 L394.5,355.4 L395.0,354.8 L395.5,353.9 L396.0,353.6 L396.5,353.1 L397.0,352.7 L397.5,352.1 L398.0,351.3 L398.5,350.6 L399.0,349.5 L399.5,348.7 L400.0,347.8 L400.5,347.1 L401.0,346.1 L401.5,345.5 L402.0,344.7 L402.5,343.8 L403.0,342.9 L403.5,342.0 L404.0,341.1 L404.5,340.1 L405.0,339.1 L405.5,338.0 L406.0,336.9 L406.5,336.0 L407.0,335.3 L407.5,334.5 L408.0,333.3 L408.5,332.2 L409.0,331.1 L409.5,330.2 L410.0,329.1 L410.5,328.0 L411.0,326.9 L411.5,325.9 L412.0,324.9 L412.5,323.6 L413.0,322.5 L413.5,321.6 L414.0,320.6 L414.5,319.6 L415.0,318.2 L415.5,317.2 L416.0,316.4 L416.5,315.6 L417.0,314.4 L417.5,313.1 L418.0,311.8 L418.5,310.8 L419.0,310.1 L419.5,309.3 L420.0,308.3 L420.5,307.4 L421.0,306.6 L421.5,305.9 L422.0,305.2 L422.5,304.5 L423.0,304.0 L423.5,303.5 L424.0,303.1 L424.5,302.5 L425.0,302.0 L425.5,301.5 L426.0,301.4 L426.5,301.2 L427.0,301.2 L427.5,301.1 L428.0,301.3 L428.5,301.2 L429.0,301.3 L429.5,301.4 L430.0,301.9 L430.5,302.4 L431.0,302.8 L431.5,303.2 L432.0,303.7 L432.5,304.5 L433.0,305.5 L433.5,306.3 L434.0,307.2 L434.5,307.8 L435.0,308.8 L435.5,309.8 L436.0,310.9 L436.5,311.8 L437.0,312.6 L437.5,313.4 L438.0,314.3 L438.5,315.7 L439.0,316.8 L439.5,318.1 L440.0,319.2 L440.5,320.3 L441.0,321.5 L441.5,322.6 L442.0,323.5 L442.5,324.4 L443.0,325.6 L443.5,326.7 L444.0,328.0 L444.5,329.0 L445.0,330.1 L445.5,331.0 L446.0,331.7 L446.5,332.8 L447.0,333.6 L447.5,334.6 L448.0,335.4 L448.5,336.3 L449.0,337.3 L449.5,338.2 L450.0,339.1 L450.5,339.9 L451.0,340.8 L451.5,341.8 L452.0,342.6 L452.5,343.2 L453.0,343.6 L453.5,344.3 L454.0,345.1 L454.5,345.8 L455.0,346.2 L455.5,346.7 L456.0,347.2 L456.5,348.1 L457.0,348.7 L457.5,349.1 L458.0,349.6 L458.5,350.3 L459.0,351.1 L459.5,351.3 L460.0,351.6 L460.5,352.0 L461.0,352.8 L461.5,353.2 L462.0,353.3 L462.5,353.6 L463.0,354.0 L463.5,354.6 L464.0,355.0 L464.5,355.4 L465.0,355.7 L465.5,355.9 L466.0,356.1 L466.5,356.3 L467.0,356.8 L467.5,357.1 L468.0,357.5 L468.5,357.7 L469.0,357.9 L469.5,358.0 L470.0,358.1 L470.5,358.3 L471.0,358.4 L471.5,358.8 L472.0,359.2 L472.5,359.3 L473.0,359.5 L473.5,359.6 L474.0,359.9 L474.5,359.9 L475.0,360.2 L475.5,360.3 L476.0,360.4 L476.5,360.4 L477.0,360.3 L477.5,360.2 L478.0,360.0 L478.5,360.2 L479.0,360.4 L479.5,360.6 L480.0,360.5 L480.5,360.6 L481.0,360.7 L481.5,361.0 L482.0,361.1 L482.5,361.2 L483.0,361.3 L483.5,361.4 L484.0,361.5 L484.5,361.5 L485.0,361.8 L485.5,362.3 L486.0,362.7 L486.5,362.5 L487.0,362.2 L487.5,362.3 L488.0,362.4 L488.5,362.5 L489.0,362.4 L489.5,362.5 L490.0,362.5 L490.5,362.6 L491.0,362.7 L491.5,362.8 L492.0,362.9 L492.5,362.8 L493.0,362.7 L493.5,362.6 L494.0,362.8 L494.5,363.0 L495.0,363.0 L495.5,362.7 L496.0,362.5 L496.5,362.6 L497.0,362.9 L497.5,363.0 L498.0,362.8 L498.5,362.6 L499.0,362.4 L499.5,362.3 L500.0,362.5 L500.5,362.5 L501.0,362.6 L501.5,362.6 L502.0,362.8 L502.5,362.9 L503.0,362.9 L503.5,362.8 L504.0,362.7 L504.5,362.6 L505.0,362.6 L505.5,362.8 L506.0,362.8 L506.5,362.8 L507.0,363.0 L507.5,363.0 L508.0,363.1 L508.5,363.0 L509.0,363.0 L509.5,363.1 L510.0,363.2 L510.5,363.2 L511.0,363.1 L511.5,363.0 L512.0,362.9 L512.5,363.0 L513.0,362.9 L513.5,362.9 L514.0,362.8 L514.5,362.9 L515.0,362.9 L515.5,363.1 L516.0,363.3 L516.5,363.5 L517.0,363.3 L517.5,363.3 L518.0,363.2 L518.5,363.5 L519.0,363.8 L519.5,363.8 L520.0,363.7 L520.5,363.8 L521.0,363.8 L521.5,363.8 L522.0,363.8 L522.5,364.0 L523.0,363.9 L523.5,364.0 L524.0,364.1 L524.5,364.3 L525.0,364.0 L525.5,363.9 L526.0,364.0 L526.5,364.2 L527.0,364.3 L527.5,364.2 L528.0,364.3 L528.5,364.2 L529.0,364.3 L529.5,364.2 L530.0,364.1 L530.5,364.1 L531.0,363.9 L531.5,363.9 L532.0,363.7 L532.5,363.7 L533.0,363.5 L533.5,363.5 L534.0,363.5 L534.5,363.6 L535.0,363.6 L535.5,363.9 L536.0,363.8" fill="none" stroke="#ff0a0a" stroke-width="2.2" stroke-linejoin="round"/>
<rect x="292.3" y="224.7" width="244" height="170" fill="none" stroke="#000" stroke-width="1.3"/>
<line x1="292.30" y1="394.7" x2="292.30" y2="392.2" stroke="#111" stroke-width="1"/>
<line x1="322.80" y1="394.7" x2="322.80" y2="393.1" stroke="#111" stroke-width="1"/>
<line x1="353.30" y1="394.7" x2="353.30" y2="392.2" stroke="#111" stroke-width="1"/>
<line x1="383.80" y1="394.7" x2="383.80" y2="393.1" stroke="#111" stroke-width="1"/>
<line x1="414.30" y1="394.7" x2="414.30" y2="392.2" stroke="#111" stroke-width="1"/>
<line x1="444.80" y1="394.7" x2="444.80" y2="393.1" stroke="#111" stroke-width="1"/>
<line x1="475.30" y1="394.7" x2="475.30" y2="392.2" stroke="#111" stroke-width="1"/>
<line x1="505.80" y1="394.7" x2="505.80" y2="393.1" stroke="#111" stroke-width="1"/>
<line x1="536.30" y1="394.7" x2="536.30" y2="392.2" stroke="#111" stroke-width="1"/>
<text x="292.30" y="406.3" font-size="9.4" font-weight="bold" text-anchor="middle" fill="#222">2500</text>
<text x="353.30" y="406.3" font-size="9.4" font-weight="bold" text-anchor="middle" fill="#222">2600</text>
<text x="414.30" y="406.3" font-size="9.4" font-weight="bold" text-anchor="middle" fill="#222">2700</text>
<text x="475.30" y="406.3" font-size="9.4" font-weight="bold" text-anchor="middle" fill="#222">2800</text>
<text x="536.30" y="406.3" font-size="9.4" font-weight="bold" text-anchor="middle" fill="#222">2900</text>
<text x="357.6" y="427.1" font-size="13.3" font-weight="bold" fill="#111" textLength="101.5" lengthAdjust="spacingAndGlyphs">Raman Shift (cm</text><text x="459.2" y="421.1" font-size="7.4" font-weight="bold" fill="#111">-1</text><text x="466.8" y="427.1" font-size="13.3" font-weight="bold" fill="#111">)</text>
<line x1="306.9" y1="235.8" x2="327.3" y2="235.8" stroke="#000" stroke-width="2.4"/>
<line x1="306.9" y1="245.7" x2="327.3" y2="245.7" stroke="#ff0a0a" stroke-width="2.4"/>
<text x="328" y="238.3" font-size="7.8" fill="#2a2a2a">LIG</text>
<text x="328" y="248.4" font-size="8.1" fill="#2a2a2a">KBr-LIG</text>
<text x="415.2" y="256.7" font-size="10.3" fill="#333">2D</text>
<text x="406.8" y="272.2" font-size="11.6" font-weight="bold" fill="#111" stroke="#111" stroke-width="0.3" textLength="20.6" lengthAdjust="spacingAndGlyphs">2721</text>
<text x="451.1" y="288.6" font-size="11.2" font-weight="bold" fill="#111" stroke="#111" stroke-width="0.3" textLength="21.3" lengthAdjust="spacingAndGlyphs">2733</text>
<path d="M425.7,265 V279.3" stroke="#888" stroke-width="0.9" fill="none"/>
<path d="M427.6,294 V290.7 L447.3,283.9" stroke="#888" stroke-width="0.9" fill="none"/>
</svg></body></html>
